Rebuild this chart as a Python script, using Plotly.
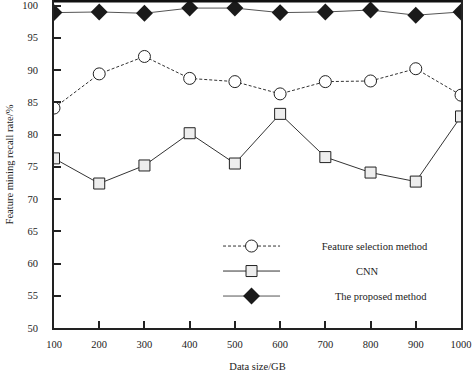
import plotly.graph_objects as go

data_size = [100, 200, 300, 400, 500, 600, 700, 800, 900, 1000]
feature_selection = [84.1, 89.4, 92.1, 88.7, 88.2, 86.3, 88.2, 88.3, 90.2, 86.1]
cnn = [76.3, 72.4, 75.2, 80.2, 75.5, 83.2, 76.5, 74.1, 72.7, 82.8]
proposed = [98.9, 99.0, 98.8, 99.6, 99.6, 98.9, 99.0, 99.3, 98.5, 99.0]

x_ticks = [100, 200, 300, 400, 500, 600, 700, 800, 900, 1000]
y_ticks = [50, 55, 60, 65, 70, 75, 80, 85, 90, 95, 100]

NB = "\u00a0"
font = "Liberation Serif, Times New Roman, serif"
FS = 10.5

fig = go.Figure()
fig.add_trace(go.Scatter(
    x=data_size, y=feature_selection, mode="lines+markers",
    name=NB * 14 + "Feature selection method", legendgroup="a",
    line=dict(color="#333333", width=1, dash="3px,2px"),
    marker=dict(symbol="circle", size=12, color="white",
                line=dict(color="#222222", width=1)),
))
fig.add_trace(go.Scatter(
    x=data_size, y=cnn, mode="lines+markers",
    name=NB * 27 + "CNN", legendgroup="b",
    line=dict(color="#333333", width=1),
    marker=dict(symbol="square", size=11, color="#eeeeee",
                line=dict(color="#222222", width=1)),
))
fig.add_trace(go.Scatter(
    x=data_size, y=proposed, mode="lines+markers",
    name=NB * 19 + "The proposed method", legendgroup="c",
    line=dict(color="#555555", width=1),
    marker=dict(symbol="diamond", size=13, color="#1a1a1a",
                line=dict(color="#1a1a1a", width=0)),
))

fig.update_layout(
    width=474, height=373,
    margin=dict(l=54, r=13, t=1, b=45),
    paper_bgcolor="white", plot_bgcolor="white",
    font=dict(family=font, size=FS, color="#222222"),
    showlegend=True,
    legend=dict(x=0.403, y=0.295, xanchor="left", yanchor="top",
                bgcolor="rgba(0,0,0,0)", itemwidth=57,
                tracegroupgap=6, font=dict(size=FS, family=font)),
    xaxis=dict(
        range=[100, 1000], tickvals=x_ticks, ticktext=[str(v) for v in x_ticks],
        ticks="inside", ticklen=7, tickwidth=1.5, tickcolor="#222222",
        showline=True, linecolor="#222222", linewidth=2, mirror=True,
        showgrid=False, zeroline=False, ticklabelstandoff=5, automargin=False,
        title=dict(text="Data size/GB", standoff=14, font=dict(size=FS)),
        tickfont=dict(size=FS),
    ),
    yaxis=dict(
        range=[50, 100.7], tickvals=y_ticks,
        ticks="inside", ticklen=7, tickwidth=1.5, tickcolor="#222222",
        showline=True, linecolor="#222222", linewidth=2, mirror=True,
        showgrid=False, zeroline=False, ticklabelstandoff=12, automargin=False,
        title=dict(text="Feature mining recall rate/%", standoff=6, font=dict(size=FS)),
        tickfont=dict(size=FS),
    ),
)
fig.add_shape(type="line", xref="paper", yref="paper", x0=0, x1=1, y0=1, y1=1,
              line=dict(color="#111111", width=3))

fig.write_html("out.html", config={"displayModeBar": False},
               post_script="document.body.style.margin='0';")
